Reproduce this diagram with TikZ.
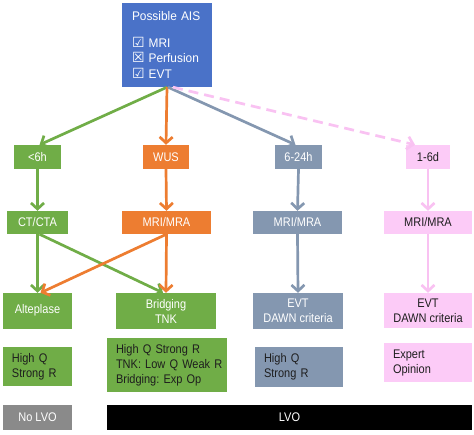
\documentclass[tikz,border=0pt]{standalone}
\usepackage{fontspec}
\setmainfont{Liberation Sans}[FakeStretch=0.88]
\newfontfamily\topfont{Liberation Sans}[FakeStretch=0.95]
\newfontfamily\symfont{DejaVu Sans}
\usetikzlibrary{arrows.meta}
\definecolor{cblue}{HTML}{4A72C8}
\definecolor{cgreen}{HTML}{70AD47}
\definecolor{corange}{HTML}{ED7D31}
\definecolor{cgray}{HTML}{8497B0}
\definecolor{cpink}{HTML}{FCCBF7}
\definecolor{cpinkline}{HTML}{F9C2F2}
\definecolor{cdgray}{HTML}{8A8A8A}
\definecolor{ctext}{HTML}{1E1E1E}
\newcommand\ckbox[1]{{\symfont\fontsize{14}{15.5}\selectfont #1}}
\frenchspacing
\begin{document}
\begin{tikzpicture}[x=1pt,y=-1pt,
  box/.style={inner sep=0pt, align=center, font=\fontsize{12.5}{15}\selectfont},
  lbox/.style={inner xsep=9pt, inner ysep=0pt, align=left, font=\fontsize{12.5}{15}\selectfont, text=ctext},
  green/.style={fill=cgreen, text=white},
  orange/.style={fill=corange, text=white},
  grayb/.style={fill=cgray, text=white},
  pink/.style={fill=cpink, text=ctext},
  arr/.style={line width=2.7pt, -{Straight Barb[length=6pt,width=13pt]}},
]
\useasboundingbox (0,0) rectangle (474,434);
% top
\node[fill=cblue, text=white, inner xsep=10pt, inner ysep=0pt, align=left,
  text width=70pt, minimum width=90pt, minimum height=84pt,
  font=\topfont\fontsize{12.5}{15.5}\selectfont] (top) at (167,45)
  {\mbox{Possible AIS}\\[11pt]\ckbox{☑} MRI\\\ckbox{☒} Perfusion\\\ckbox{☑} EVT};
% row 2
\node[box, green, minimum width=47pt, minimum height=24pt] (lt6) at (37.5,157) {<6h};
\node[box, orange, minimum width=46pt, minimum height=24pt] (wus) at (166,157) {WUS};
\node[box, grayb, minimum width=47pt, minimum height=24pt] (h624) at (298.5,157) {6-24h};
\node[box, pink, minimum width=44pt, minimum height=24pt] (d16) at (428,157) {1-6d};
% row 3
\node[box, green, minimum width=61pt, minimum height=23pt] (ct) at (37.5,222.5) {CT/CTA};
\node[box, orange, minimum width=89pt, minimum height=23pt] (mriO) at (166.5,222.5) {MRI/MRA};
\node[box, grayb, minimum width=89pt, minimum height=23pt] (mriG) at (297.5,222.5) {MRI/MRA};
\node[box, pink, minimum width=88pt, minimum height=23pt] (mriP) at (428,222.5) {MRI/MRA};
% row 4
\node[box, green, minimum width=69pt, minimum height=36pt] (alt) at (37.5,311) {\raisebox{5pt}{Alteplase}};
\node[box, green, minimum width=100pt, minimum height=36pt] (brid) at (166,311) {Bridging\\TNK};
\node[box, grayb, minimum width=90pt, minimum height=36pt] (evtG) at (298,311) {EVT\\DAWN criteria};
\node[box, pink, minimum width=88pt, minimum height=35pt] (evtP) at (428,310.5) {EVT\\DAWN criteria};
% row 5
\node[lbox, fill=cgreen, text width=51pt, minimum height=39pt] (q1) at (37.5,366.5) {High Q\\Strong R};
\node[lbox, fill=cgreen, text width=102pt, minimum height=54pt] (q2) at (167,365) {\mbox{High Q Strong R}\\\mbox{TNK: Low Q Weak R}\\\mbox{Bridging: Exp Op}};
\node[lbox, fill=cgray, text width=70pt, minimum height=40pt] (q3) at (299,367) {High Q\\Strong R};
\node[lbox, fill=cpink, text width=70pt, minimum height=39pt] (q4) at (428,362.5) {Expert\\Opinion};
% row 6
\node[box, fill=cdgray, text=white, minimum width=69pt, minimum height=25pt] (nolvo) at (37.5,417.5) {No LVO};
\node[box, fill=black, text=white, minimum width=365pt, minimum height=25pt] (lvo) at (289.5,417.5) {LVO};
% arrows from top
\draw[arr, cgreen] (top.south) -- ([xshift=2pt]lt6.north);
\draw[arr, corange] (top.south) -- (wus.north);
\draw[arr, cgray] ([xshift=1pt]top.south) -- ([xshift=-3pt]h624.north);
\draw[arr, cpinkline, dash pattern=on 10pt off 6pt] ([xshift=6pt]top.south) -- ([xshift=-13pt]d16.north);
% verticals
\draw[arr, cgreen] (lt6.south) -- (ct.north);
\draw[arr, corange] (wus.south) -- (mriO.north);
\draw[arr, cgray] (h624.south) -- (mriG.north);
\draw[arr, cpinkline] (d16.south) -- (mriP.north);
% row 3 -> row 4
\draw[arr, cgreen] (ct.south) -- (alt.north);
\draw[arr, cgreen] ([xshift=2pt]ct.south) -- ([xshift=-3pt]brid.north);
\draw[arr, corange] (mriO.south) -- ([xshift=3pt]alt.north);
\draw[arr, corange] (mriO.south) -- (brid.north);
\draw[arr, cgray] (mriG.south) -- (evtG.north);
\draw[arr, cpinkline] (mriP.south) -- (evtP.north);
\end{tikzpicture}
\end{document}
